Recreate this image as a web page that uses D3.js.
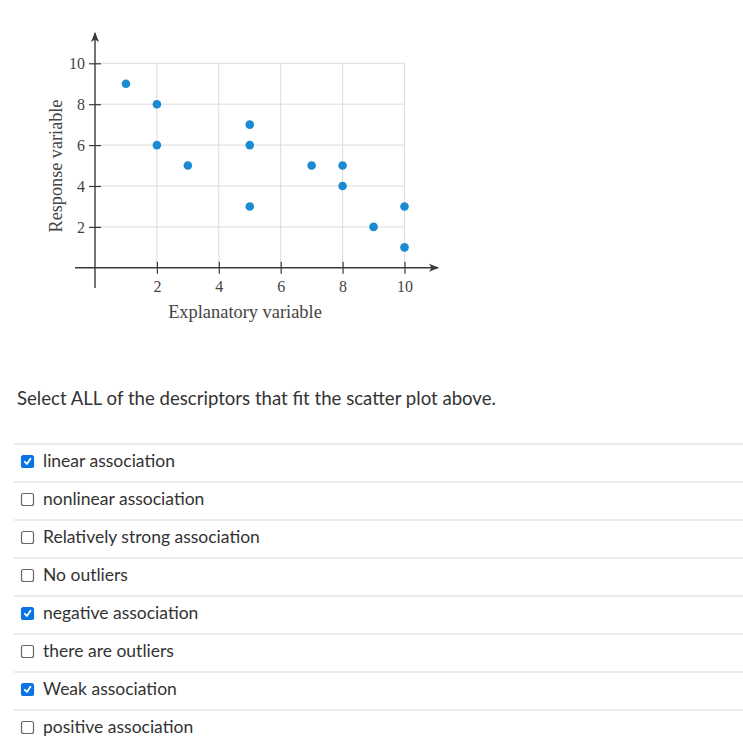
<!DOCTYPE html>
<html><head><meta charset="utf-8">
<script src="https://cdn.jsdelivr.net/npm/d3@7"></script>
<style>
body{margin:0;background:#fff;}
svg{display:block;}
</style></head>
<body>
<svg id="c" width="743" height="752"></svg>
<script>
const xValues = [1, 2, 2, 3, 5, 5, 5, 7, 8, 8, 9, 10, 10];
const yValues = [9, 8, 6, 5, 7, 6, 3, 5, 5, 4, 2, 3, 1];
const xTicks = [2, 4, 6, 8, 10];
const yTicks = [2, 4, 6, 8, 10];
const xTitle = "Explanatory variable";
const yTitle = "Response variable";
const question = "Select ALL of the descriptors that fit the scatter plot above.";
const options = ["linear association","nonlinear association","Relatively strong association","No outliers","negative association","there are outliers","Weak association","positive association"];
const checked = [true,false,false,false,true,false,true,false];

const svg = d3.select("#c");
const x = d3.scaleLinear().domain([0,10]).range([95,404.5]);
const y = d3.scaleLinear().domain([0,10]).range([267.8,63.3]);
const axisColor = "#3a3a3a";
const serif = "Liberation Serif, Times New Roman, serif";
const g = svg.append("g");

// grid
g.selectAll("line.vg").data(xTicks).join("line")
  .attr("x1",d=>x(d)).attr("x2",d=>x(d)).attr("y1",y(0)).attr("y2",y(10))
  .attr("stroke","#dcdcdc").attr("stroke-width",1);
g.selectAll("line.hg").data(yTicks).join("line")
  .attr("x1",x(0)).attr("x2",x(10)).attr("y1",d=>y(d)).attr("y2",d=>y(d))
  .attr("stroke","#dcdcdc").attr("stroke-width",1);

// axes lines with arrows
svg.append("defs").append("marker").attr("id","arr").attr("viewBox","0 0 10 10")
  .attr("refX",9).attr("refY",5).attr("markerWidth",10).attr("markerHeight",10).attr("markerUnits","userSpaceOnUse")
  .attr("orient","auto").append("path").attr("d","M0,1 L10,5 L0,9 L2.5,5 Z").attr("fill",axisColor);
g.append("line").attr("x1",x(0)).attr("x2",x(0)).attr("y1",288).attr("y2",33)
  .attr("stroke",axisColor).attr("stroke-width",1.4).attr("marker-end","url(#arr)");
g.append("line").attr("x1",75).attr("x2",438).attr("y1",y(0)).attr("y2",y(0))
  .attr("stroke",axisColor).attr("stroke-width",1.4).attr("marker-end","url(#arr)");

// x axis via d3
const xa = g.append("g").attr("transform",`translate(0,${y(0)})`)
  .call(d3.axisBottom(x).tickValues(xTicks).tickSize(6).tickPadding(7));
xa.select(".domain").remove();
xa.selectAll(".tick line").attr("y1",-6).attr("y2",6).attr("stroke",axisColor).attr("stroke-width",1.2);
xa.selectAll(".tick text").attr("font-family",serif).attr("font-size",16).attr("fill","#444");

const ya = g.append("g").attr("transform",`translate(${x(0)},0)`)
  .call(d3.axisLeft(y).tickValues(yTicks).tickSize(6).tickPadding(4));
ya.select(".domain").remove();
ya.selectAll(".tick line").attr("x1",-6).attr("x2",6).attr("stroke",axisColor).attr("stroke-width",1.2);
ya.selectAll(".tick text").attr("font-family",serif).attr("font-size",16).attr("fill","#444");

g.append("text").attr("x",245).attr("y",318).attr("text-anchor","middle")
  .attr("font-family",serif).attr("font-size",18.4).attr("fill","#444").text(xTitle);
g.append("text").attr("transform","translate(62,166) rotate(-90)").attr("text-anchor","middle")
  .attr("font-family",serif).attr("font-size",18.2).attr("fill","#444").text(yTitle);

// points
g.selectAll("circle").data(xValues.map((v,i)=>[v,yValues[i]])).join("circle")
  .attr("cx",d=>x(d[0])).attr("cy",d=>y(d[1])).attr("r",4.3).attr("fill","#1a8bd0");

// question
svg.append("text").attr("x",17).attr("y",405).attr("font-family","Lato, sans-serif").attr("font-size",18.6)
  .attr("fill","#333").text(question);

const rows = svg.selectAll("g.row").data(options).join("g").attr("class","row")
  .attr("transform",(d,i)=>`translate(0,${444 + i*38})`);
rows.append("line").attr("x1",14).attr("x2",743).attr("y1",0).attr("y2",0).attr("stroke","#d9d9d9").attr("stroke-width",1);
rows.append("rect").attr("x",21.5).attr("y",11.5).attr("width",12).attr("height",12).attr("rx",2)
  .attr("fill",(d,i)=>checked[i]?"#0b74e5":"#fff").attr("stroke",(d,i)=>checked[i]?"#0b74e5":"#666").attr("stroke-width",1.2);
rows.filter((d,i)=>checked[i]).append("path").attr("d","M24.8,17.8 L26.9,20 L30.5,14.8").attr("fill","none")
  .attr("stroke","#fff").attr("stroke-width",1.8).attr("stroke-linecap","round").attr("stroke-linejoin","round");
rows.append("text").attr("x",43).attr("y",23).attr("font-family","Lato, sans-serif").attr("font-size",17.5)
  .attr("fill","#333").text(d=>d);
</script>
</body></html>
